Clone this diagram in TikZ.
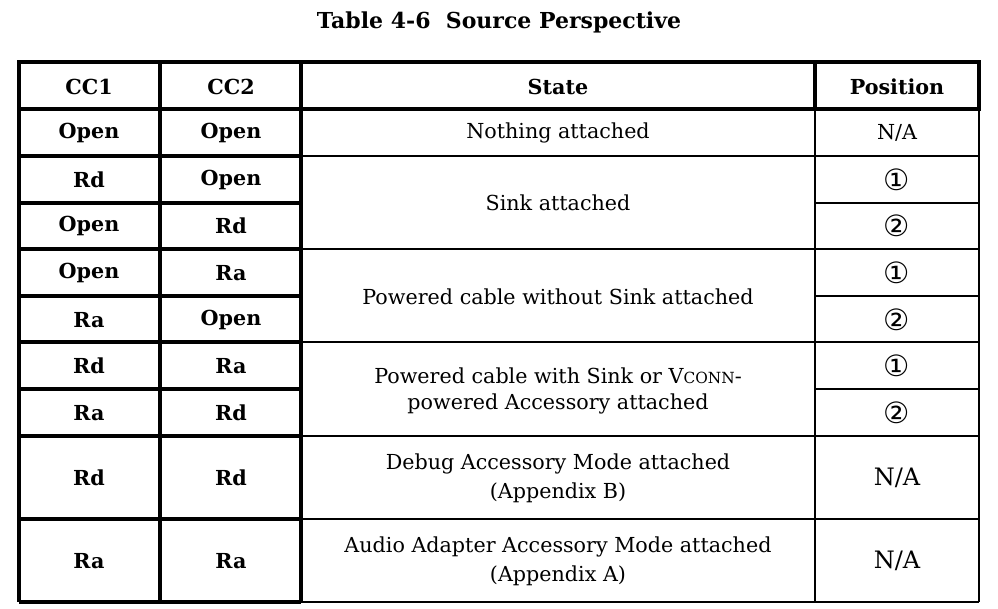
\documentclass[tikz,border=0pt]{standalone}
\usepackage{fontspec}
\setmainfont{DejaVu Serif}
\newfontfamily\circfont{DejaVu Sans}
\begin{document}
\begin{tikzpicture}[x=0.75pt, y=-0.75pt,
    cell/.style={font=\fontsize{15.5}{19}\selectfont, align=center},
    head/.style={cell, font=\fontsize{15.5}{19}\selectfont\bfseries},
    thick line/.style={line width=3pt},
    thin line/.style={line width=1.1pt},
    hair line/.style={line width=0.8pt}]
  \useasboundingbox (0,0) rectangle (998,609);

  \node[font=\fontsize{16.5}{19}\selectfont\bfseries] (title) at (499,22) {Table 4-6\ \ Source Perspective};

  % header
  \node[head] (hcc1) at (89,87) {CC1};
  \node[head] (hcc2) at (231,87) {CC2};
  \node[head] (hstate) at (558,87) {State};
  \node[head] (hpos) at (897,87) {Position};

  % CC1 / CC2 columns
  \foreach \y/\a/\b [count=\i] in {133/Open/Open, 180/Rd/Open, 226/Open/Rd, 273/Open/Ra,
      320/Ra/Open, 366/Rd/Ra, 413/Ra/Rd, 478/Rd/Rd, 561/Ra/Ra} {
    \node[head] (cca\i) at (89,\y) {\a};
    \node[head] (ccb\i) at (231,\y) {\b};
  }

  % state column
  \node[cell] (s1) at (558,133) {Nothing attached};
  \node[cell] (s2) at (558,203) {Sink attached};
  \node[cell] (s3) at (558,297) {Powered cable without Sink attached};
  \node[cell] (s4) at (558,391) {Powered cable with Sink or V{\fontsize{11.5}{13}\selectfont CONN}-\\powered Accessory attached};
  \node[cell, align=center] (s5) at (558,478) {Debug Accessory Mode attached\\[3pt](Appendix B)};
  \node[cell] (s6) at (558,561) {Audio Adapter Accessory Mode attached\\[3pt](Appendix A)};

  % position column
  \node[cell] (p1) at (897,133) {N/A};
  \foreach \y/\c [count=\i from 2] in {180/①, 226/②, 273/①, 320/②, 366/①, 413/②}
    \node[cell, font=\fontsize{22}{24}\circfont] (p\i) at (897,\y) {\c};
  \node[cell, font=\fontsize{18}{20}\selectfont] (p8) at (897,478) {N/A};
  \node[cell, font=\fontsize{18}{20}\selectfont] (p9) at (897,561) {N/A};

  % grid
  \draw[hair line] (815,109) -- (815,602) (979,109) -- (979,602) (301,602) -- (979,602);
  \foreach \y in {156,249,342,436,519}
    \draw[thin line] (301,\y) -- (979,\y);
  \foreach \y in {203,296,389}
    \draw[hair line] (815,\y) -- (979,\y);
  \foreach \y in {156,203,249,296,342,389,436,519}
    \draw[thick line] (19,\y) -- (301,\y);
  \draw[thick line] (19,602) -- (301,602);
  \draw[thick line] (19,62) rectangle (979,109);
  \draw[thick line] (19,62) -- (19,602) (160,62) -- (160,602) (301,62) -- (301,602) (815,62) -- (815,109);
\end{tikzpicture}
\end{document}
